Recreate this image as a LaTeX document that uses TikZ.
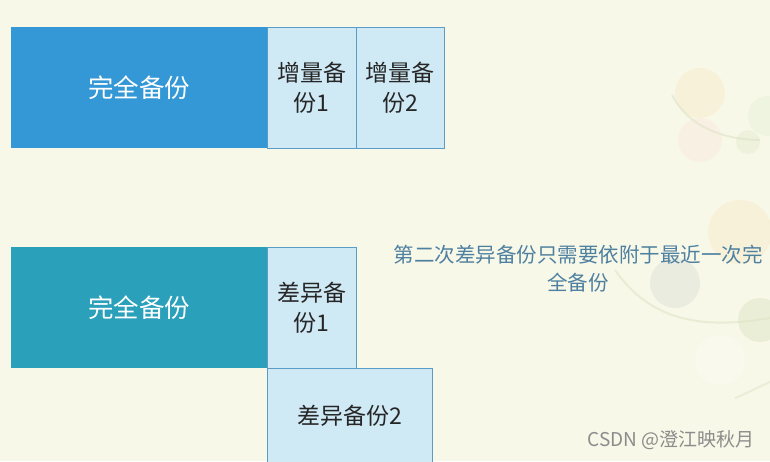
\documentclass[tikz,border=0pt]{standalone}
\usepackage{fontspec}
\setmainfont{Noto Sans CJK SC}
\begin{document}
\begin{tikzpicture}[x=1pt,y=-1pt,
  fullbox/.style={draw=none,minimum height=121pt,minimum width=256pt,inner sep=0pt,text=white,font=\fontsize{25.5}{30}\selectfont},
  lightbox/.style={line width=0.8pt,fill=lightfill,inner sep=0pt,align=center,font=\fontsize{23}{30}\selectfont,text=black!85},
  bokeh/.style={draw=none,fill opacity=0.2}]
\definecolor{bg}{RGB}{248,248,232}
\definecolor{fullA}{RGB}{52,152,214}
\definecolor{fullB}{RGB}{42,160,187}
\definecolor{lightfill}{RGB}{207,233,245}
\definecolor{lightedge}{RGB}{90,156,200}
\definecolor{note}{RGB}{78,128,160}
\definecolor{mark}{RGB}{140,140,140}
\tikzset{lightbox/.append style={draw=lightedge}}
\fill[bg] (0,0) rectangle (770,461);
\useasboundingbox (0,0) rectangle (770,461);
% decorative bokeh
\fill[bokeh,fill={rgb,255:red,250;green,215;blue,160}] (700,93) circle (25);
\fill[bokeh,fill={rgb,255:red,200;green,230;blue,190}] (768,116) circle (20);
\fill[bokeh,fill={rgb,255:red,250;green,210;blue,210}] (700,140) circle (22);
\fill[bokeh,fill={rgb,255:red,200;green,215;blue,170}] (748,142) circle (12);
\draw[draw={rgb,255:red,220;green,225;blue,195},line width=2pt,opacity=0.5] (672,95) .. controls (690,130) and (730,140) .. (760,140);
\fill[bokeh,fill={rgb,255:red,250;green,215;blue,160}] (740,232) circle (32);
\fill[bokeh,fill={rgb,255:red,200;green,210;blue,200},fill opacity=0.3] (675,283) circle (25);
\fill[bokeh,fill={rgb,255:red,205;green,215;blue,175},fill opacity=0.3] (760,320) circle (22);
\fill[bokeh,fill=white,fill opacity=0.25] (720,360) circle (25);
\draw[draw={rgb,255:red,220;green,225;blue,195},line width=2pt,opacity=0.5] (615,270) .. controls (650,320) and (700,330) .. (770,318);
\draw[draw={rgb,255:red,220;green,225;blue,195},line width=2pt,opacity=0.45] (735,398) .. controls (750,392) and (760,386) .. (770,382);
% top row
\node[fullbox,fill=fullA] (fa) at (139,87.5) {完全备份};
\node[lightbox,minimum width=89pt,minimum height=121pt] (i1) at (311.5,87.5) {增量备\\份1};
\node[lightbox,minimum width=88pt,minimum height=121pt] (i2) at (400,87.5) {增量备\\份2};
% bottom row
\node[fullbox,fill=fullB] (fb) at (139,307.5) {完全备份};
\node[lightbox,minimum width=89pt,minimum height=121pt] (d1) at (311.5,307.5) {差异备\\份1};
\node[lightbox,minimum width=165pt,minimum height=100pt,anchor=north west] (d2) at (267,368) {};
\node[font=\fontsize{23}{28}\selectfont,text=black!85] (d2t) at (349.5,416) {差异备份2};
% note
\node[align=center,text=note,font=\fontsize{20.5}{28}\selectfont] (note) at (578,269) {第二次差异备份只需要依附于最近一次完\\全备份};
% watermark
\node[text=mark,font=\fontsize{19}{22}\selectfont,anchor=east] (wm) at (758,440) {CSDN @澄江映秋月};
\end{tikzpicture}
\end{document}
